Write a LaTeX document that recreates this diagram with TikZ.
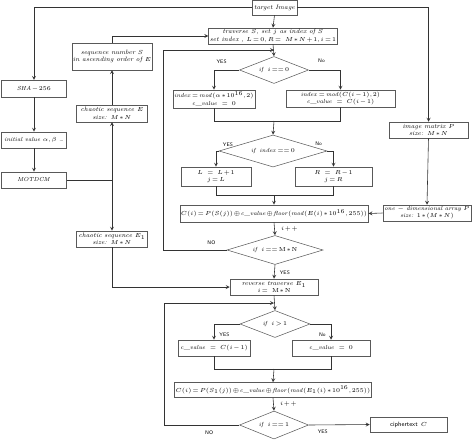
\documentclass[tikz,border=0pt]{standalone}
\usepackage{amsmath}
\usetikzlibrary{shapes.geometric}

\newcommand{\tightmath}{\medmuskip=1.5mu\relax\thickmuskip=2.5mu\relax\thinmuskip=1.5mu\relax}
\newcommand{\w}[1]{\mathit{#1}}

\tikzset{
  txt/.style={font=\fontsize{5.4}{6.3}\selectfont\tightmath},
  small/.style={font=\fontsize{5}{6}\selectfont\tightmath},
  box/.style={txt, draw=black!65, line width=0.45pt, align=center, inner sep=1pt},
  cond/.style={txt, draw=black!65, line width=0.45pt, diamond, inner sep=0pt},
  yn/.style={font=\sffamily\fontsize{4.4}{5}\selectfont},
  flow/.style={draw=black!80, line width=0.5pt},
}

\begin{document}
\begin{tikzpicture}[x=0.03cm, y=-0.03cm, >=stealth]
    % Khung: 474 x 439 px
    \useasboundingbox (0,0) rectangle (474,439);

    % Cột trái
    \node[box, minimum width=1.95cm, minimum height=0.5cm] (sha) at (34,88.5) {$\w{SHA}-256$};
    \node[box, small, minimum width=1.95cm, minimum height=0.48cm] (init) at (34,140) {\textit{initial value $\alpha,\beta$ \dots}};
    \node[box, minimum width=1.95cm, minimum height=0.48cm] (mot) at (34,180) {$\w{MOTDCM}$};

    % Dãy hỗn loạn
    \node[box, minimum width=2.34cm, minimum height=0.8cm] (seqS) at (112,56.5) {\textit{sequence number $S$}\\\textit{in ascending order of $E$}};
    \node[box, minimum width=2.13cm, minimum height=0.5cm] (chE) at (112,113.5) {\textit{chaotic sequence $E$}\\\textit{size: $M\ast N$}};
    \node[box, minimum width=2.13cm, minimum height=0.48cm] (chE1) at (112,239) {\textit{chaotic sequence $E_1$}\\\textit{size: $M\ast N$}};

    % Cột phải
    \node[box, minimum width=1.35cm, minimum height=0.45cm] (tgt) at (274.5,7.5) {\textit{target Image}};
    \node[box, minimum width=2.37cm, minimum height=0.48cm] (imgP) at (428.5,130) {\textit{image matrix $P$}\\\textit{size: $M\ast N$}};
    \node[box, small, minimum width=2.64cm, minimum height=0.48cm] (arrP) at (427,213) {\textit{one $-$ dimensional array $P$}\\\textit{size: $1\ast(M\ast N)$}};

    % Vòng mã hoá thứ nhất
    \node[box, minimum width=3.66cm, minimum height=0.48cm] (trav) at (273,36) {\textit{traverse $S$, set $j$ as index of $S$}\\\textit{set index , $L=0, R=\ M\ast N+1, i=1$}};
    \node[cond, aspect=2.6, minimum width=2.07cm, minimum height=0.81cm] (d1) at (274,70) {$\w{if}\ i == 0$};
    \node[box, minimum width=2.34cm, minimum height=0.54cm] (ixA) at (214,99) {$\w{index}=\w{mod}(\alpha\ast10^{16},2)$\\$\w{c\_value}\ =\ 0$};
    \node[box, minimum width=3.27cm, minimum height=0.51cm] (ixB) at (340.5,98.5) {$\w{index}=\w{mod}(C(i-1),2)$\\$\w{c\_value}\ =\ C(i-1)$};
    \node[cond, aspect=3.4, minimum width=3.24cm, minimum height=0.96cm] (d2) at (273,151) {$\w{if}\ \w{index} == 0$};
    \node[box, minimum width=2.1cm, minimum height=0.57cm] (Lb) at (216,176.5) {$L\ =\ L+1$\\$j=L$};
    \node[box, minimum width=2.31cm, minimum height=0.57cm] (Rb) at (333.5,176.5) {$R\ =\ R-1$\\$j=R$};
    \node[box, small, minimum width=5.1cm, minimum height=0.51cm] (cA) at (274,213.5) {$C(i)=P(S(j))\oplus \w{c\_value}\oplus \w{floor}(\w{mod}(E(i)\ast10^{16},255))$};
    \node[cond, aspect=3.3, minimum width=2.88cm, minimum height=0.87cm] (d3) at (275,250) {$\w{if}\ i == \mathrm{M\ast N}$};

    % Vòng mã hoá thứ hai
    \node[box, minimum width=2.64cm, minimum height=0.48cm] (rev) at (274,287) {\textit{reverse traverse $E_1$}\\$i=\ \mathrm{M\ast N}$};
    \node[cond, aspect=2.6, minimum width=2.1cm, minimum height=0.81cm] (d4) at (275,324) {$\w{if}\ i>1$};
    \node[box, minimum width=2.16cm, minimum height=0.48cm] (cvA) at (214,348) {$\w{c\_value}\ =\ C(i-1)$};
    \node[box, minimum width=2.34cm, minimum height=0.48cm] (cvB) at (331,348) {$\w{c\_value}\ =\ 0$};
    \node[box, small, minimum width=5.58cm, minimum height=0.45cm] (cB) at (273,390) {$C(i)=P(S_1(j))\oplus \w{c\_value}\oplus \w{floor}(\w{mod}(E_1(i)\ast10^{16},255))$};
    \node[cond, aspect=2.5, minimum width=2.07cm, minimum height=0.84cm] (d5) at (274,425) {$\w{if}\ i == 1$};
    \node[box, minimum width=2.31cm, minimum height=0.45cm] (ciph) at (408.5,424.5) {\textsf{ciphertext} $C$};

    % Điểm nối
    \coordinate (jn) at (112,180);
    \coordinate (m1) at (274,121);
    \coordinate (m2) at (274,195);
    \coordinate (m3) at (274,369);
    \coordinate (lp1) at (163,50);
    \coordinate (jt1) at (274,50);
    \coordinate (lp2) at (164,303);
    \coordinate (jt2) at (274,303);

    % Mũi tên
    \draw[flow, ->] (tgt.west) -| (sha.north);
    \draw[flow, ->] (tgt.east) -| (imgP.north);
    \draw[flow, ->] (tgt.south) -- (trav.north);
    \draw[flow, ->] (sha.south) -- (init.north);
    \draw[flow, ->] (init.south) -- (mot.north);
    \draw[flow] (mot.east) -- (jn);
    \draw[flow, ->] (jn) -- (chE.south);
    \draw[flow, ->] (jn) -- (chE1.north);
    \draw[flow, ->] (chE.north) -- (seqS.south);
    \draw[flow, ->] (seqS.north) |- (trav.west);
    \draw[flow, ->] (chE1.south) |- (rev.west);
    \draw[flow, ->] (imgP.south) -- (arrP.north);
    \draw[flow, ->] (arrP.west) -- (cA.east);

    \draw[flow, ->] (trav.south) -- (d1.north);
    \draw[flow, ->] (d1.west) -| node[yn, pos=0.35, above=2pt] {YES} (ixA.north);
    \draw[flow, ->] (d1.east) -| node[yn, pos=0.2, above=3pt] {No} (ixB.north);
    \draw[flow] (ixA.south) |- (m1);
    \draw[flow] (ixB.south) |- (m1);
    \draw[flow, ->] (m1) -- (d2.north);
    \draw[flow, ->] (d2.west) -| node[yn, pos=0, above right=0pt] {YES} (Lb.north);
    \draw[flow, ->] (d2.east) -| node[yn, pos=0, above left=1pt] {No} (Rb.north);
    \draw[flow] (Lb.south) |- (m2);
    \draw[flow] (Rb.south) |- (m2);
    \draw[flow, ->] (m2) -- (cA.north);
    \draw[flow, ->] (cA.south) -- node[txt, right=2pt] {$i++$} (d3.north);
    \draw[flow, ->] (d3.west) -| node[yn, pos=0.12, above=1pt] {NO} (lp1) -- (jt1);
    \draw[flow, ->] (d3.south) -- node[yn, right=1pt, pos=0.55] {YES} (rev.north);

    \draw[flow, ->] (rev.south) -- (d4.north);
    \draw[flow, ->] (d4.west) -| node[yn, pos=0.85, right=1pt] {YES} (cvA.north);
    \draw[flow, ->] (d4.east) -| node[yn, pos=0.85, left=1pt] {No} (cvB.north);
    \draw[flow] (cvA.south) |- (m3);
    \draw[flow] (cvB.south) |- (m3);
    \draw[flow, ->] (m3) -- (cB.north);
    \draw[flow, ->] (cB.south) -- node[txt, right=2pt] {$i++$} (d5.north);
    \draw[flow, ->] (d5.west) -| node[yn, pos=0.2, below=1pt] {NO} (lp2) -- (jt2);
    \draw[flow, ->] (d5.east) -- node[yn, pos=0.23, below=1pt] {YES} (ciph.west);

\end{tikzpicture}
\end{document}
